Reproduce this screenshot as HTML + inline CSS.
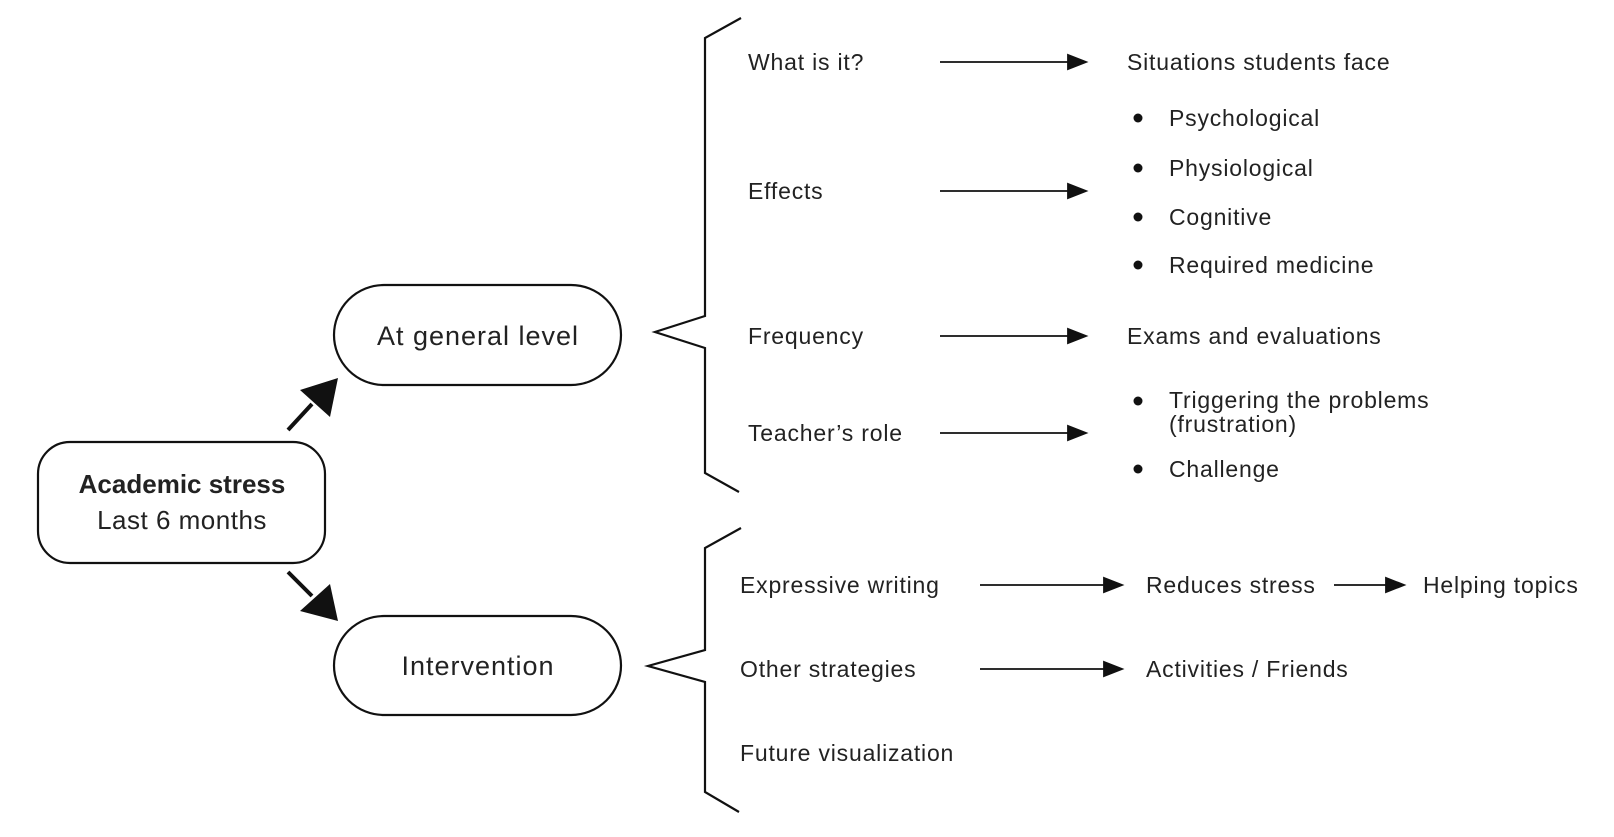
<!DOCTYPE html>
<html><head><meta charset="utf-8"><style>
body{margin:0;background:#fff;}
svg text{font-family:"Liberation Sans",sans-serif;fill:#222;}
</style></head><body>
<svg width="1614" height="832" viewBox="0 0 1614 832" xmlns="http://www.w3.org/2000/svg">
<g fill="none" stroke="#111" stroke-width="2.2">
<rect x="38" y="442" width="287" height="121" rx="32"/>
<rect x="334" y="285" width="287" height="100" rx="50"/>
<rect x="334" y="616" width="287" height="99" rx="50"/>
<path d="M741,18 L705,38 L705,316 L655,332 L705,348 L705,473 L739,492"/>
<path d="M741,528 L705,548 L705,650 L648,666 L705,682 L705,792 L739,812"/>
</g>
<g stroke="#111" stroke-width="4"><line x1="288" y1="430" x2="312" y2="404"/><line x1="288" y1="572" x2="312" y2="596"/></g>
<polygon points="300,390 338,378 330,417" fill="#111"/>
<polygon points="300,611 330,584 338,621" fill="#111"/>
<g stroke="#111" stroke-width="1.8">
<line x1="940" y1="62" x2="1074" y2="62"/><polygon points="1068,55 1086,62 1068,69" fill="#111"/>
<line x1="940" y1="191" x2="1074" y2="191"/><polygon points="1068,184 1086,191 1068,198" fill="#111"/>
<line x1="940" y1="336" x2="1074" y2="336"/><polygon points="1068,329 1086,336 1068,343" fill="#111"/>
<line x1="940" y1="433" x2="1074" y2="433"/><polygon points="1068,426 1086,433 1068,440" fill="#111"/>
<line x1="980" y1="585" x2="1110" y2="585"/><polygon points="1104,578 1122,585 1104,592" fill="#111"/>
<line x1="1334" y1="585" x2="1392" y2="585"/><polygon points="1386,578 1404,585 1386,592" fill="#111"/>
<line x1="980" y1="669" x2="1110" y2="669"/><polygon points="1104,662 1122,669 1104,676" fill="#111"/>
</g>
<g fill="#111"><circle cx="1138" cy="118" r="4.5"/><circle cx="1138" cy="168" r="4.5"/><circle cx="1138" cy="217" r="4.5"/><circle cx="1138" cy="265" r="4.5"/><circle cx="1138" cy="401" r="4.5"/><circle cx="1138" cy="469" r="4.5"/></g>
<text x="182" y="493" font-size="26" font-weight="bold" text-anchor="middle">Academic stress</text>
<text x="182" y="529" font-size="26" letter-spacing="0.5" text-anchor="middle">Last 6 months</text>
<text x="478" y="345" font-size="27" letter-spacing="1" text-anchor="middle">At general level</text>
<text x="478" y="675" font-size="27" letter-spacing="1" text-anchor="middle">Intervention</text>
<g font-size="23" letter-spacing="0.8">
<text x="748" y="70">What is it?</text>
<text x="1127" y="70">Situations students face</text>
<text x="1169" y="126">Psychological</text>
<text x="748" y="199">Effects</text>
<text x="1169" y="176">Physiological</text>
<text x="1169" y="225">Cognitive</text>
<text x="1169" y="273">Required medicine</text>
<text x="748" y="344">Frequency</text>
<text x="1127" y="344">Exams and evaluations</text>
<text x="748" y="441">Teacher’s role</text>
<text x="1169" y="408">Triggering the problems</text>
<text x="1169" y="432">(frustration)</text>
<text x="1169" y="477">Challenge</text>
<text x="740" y="593">Expressive writing</text>
<text x="1146" y="593">Reduces stress</text>
<text x="1423" y="593">Helping topics</text>
<text x="740" y="677">Other strategies</text>
<text x="1146" y="677">Activities / Friends</text>
<text x="740" y="761">Future visualization</text>
</g>
</svg>
</body></html>
